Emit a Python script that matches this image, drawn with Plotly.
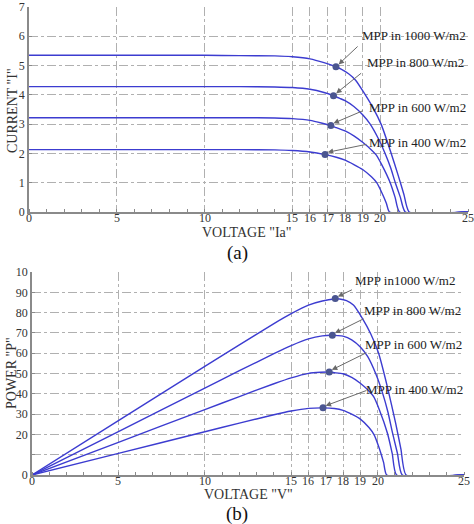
import plotly.graph_objects as go

# ---------------- data ----------------
v_1000 = [0, 5, 10, 12, 14, 15, 16, 16.8, 17.48, 17.8, 18.2, 18.6, 19.1, 19.6, 20.05, 20.6, 21.05, 21.35, 21.65, 25]
i_1000 = [5.35, 5.35, 5.35, 5.34, 5.33, 5.30, 5.23, 5.10, 4.96, 4.87, 4.72, 4.50, 4.05, 3.55, 3.0, 2.05, 1.2, 0.6, 0, 0]
p_1000 = [0, 26.75, 53.5, 64.1, 74.6, 79.5, 83.7, 85.7, 86.7, 86.7, 85.9, 83.7, 77.4, 69.6, 60.2, 42.2, 25.3, 12.8, 0, 0]

v_800 = [0, 5, 10, 12, 14, 15, 16, 16.8, 17.34, 17.7, 18, 18.5, 19, 19.43, 19.9, 20.28, 20.6, 20.86, 21.15, 21.43, 25]
i_800 = [4.28, 4.28, 4.28, 4.28, 4.27, 4.25, 4.19, 4.08, 3.97, 3.88, 3.80, 3.60, 3.32, 3.0, 2.5, 2.0, 1.5, 1.0, 0.5, 0, 0]
p_800 = [0, 21.4, 42.8, 51.36, 59.78, 63.75, 67.04, 68.54, 68.84, 68.68, 68.4, 66.6, 63.08, 58.29, 49.75, 40.56, 30.9, 20.86, 10.58, 0, 0]

v_600 = [0, 5, 10, 12, 14, 15, 16, 16.7, 17.19, 17.5, 18, 18.5, 19, 19.5, 19.77, 20.1, 20.57, 20.85, 21.1, 25]
i_600 = [3.22, 3.22, 3.22, 3.22, 3.21, 3.19, 3.13, 3.03, 2.95, 2.88, 2.77, 2.60, 2.38, 2.12, 1.95, 1.6, 1.0, 0.5, 0, 0]
p_600 = [0, 16.1, 32.2, 38.64, 44.94, 47.85, 50.08, 50.6, 50.71, 50.4, 49.86, 48.1, 45.22, 41.34, 38.55, 32.16, 20.57, 10.43, 0, 0]

v_400 = [0, 5, 10, 12, 14, 15, 16, 16.86, 17.5, 18, 18.5, 19, 19.5, 19.8, 20.1, 20.35, 20.53, 25]
i_400 = [2.13, 2.13, 2.13, 2.13, 2.12, 2.10, 2.05, 1.96, 1.87, 1.77, 1.62, 1.45, 1.2, 1.0, 0.65, 0.3, 0, 0]
p_400 = [0, 10.65, 21.3, 25.56, 29.68, 31.5, 32.8, 33.05, 32.73, 31.86, 29.97, 27.55, 23.4, 19.8, 13.07, 6.1, 0, 0]

# maximum power points
mpp_v_iv = [17.48, 17.34, 17.19, 16.86]
mpp_i = [4.96, 3.97, 2.95, 1.96]
mpp_v_pv = [17.55, 17.38, 17.2, 16.84]
mpp_p = [86.9, 68.9, 50.8, 33.1]

# annotation texts
labels_top = ["MPP in 1000 W/m2", "MPP in 800 W/m2", "MPP in 600 W/m2", "MPP in 400 W/m2"]
labels_bot = ["MPP in1000 W/m2", "MPP in 800 W/m2", "MPP in 600 W/m2", "MPP in 400 W/m2"]

# tick labels
x_tickvals = [0, 5, 10, 15, 16, 17, 18, 19, 20, 25]
x_ticktext = ["0", "5", "10", "15", "16", "17", "18", "19", "20", "25"]
yi_tickvals = [0, 1, 2, 3, 4, 5, 6, 7]
yi_ticktext = ["0", "1", "2", "3", "4", "5", "6", "7"]
yp_tickvals = [0, 10, 20, 30, 40, 50, 60, 70, 80, 90, 100]
yp_ticktext = ["0", "", "20", "30", "40", "50", "60", "70", "80", "90", "10"]

# ---------------- styling / layout ----------------
FONT = "Liberation Serif, Times New Roman, serif"
LINE = "#3c3cd0"
MARK = "#4a5590"
GRID = "#b0b0b0"
AX = "#8a8a8a"

# text / arrow positions (data coords)
top_text_xy = [(21.9, 6.01), (22.0, 5.12), (22.1, 3.58), (22.1, 2.36)]
top_tail_xy = [(18.8, 5.70), (19.0, 4.78), (19.1, 3.48), (19.3, 2.32)]
bot_text_xy = [(21.6, 95.6), (22.0, 80.8), (22.05, 64.5), (22.16, 41.9)]
bot_tail_xy = [(18.6, 91.6), (19.27, 77.3), (19.44, 60.6), (19.44, 41.9)]

fig = go.Figure()

iv = [(v_1000, i_1000), (v_800, i_800), (v_600, i_600), (v_400, i_400)]
pv = [(v_1000, p_1000), (v_800, p_800), (v_600, p_600), (v_400, p_400)]

for v, c in iv:
    fig.add_trace(go.Scatter(x=v, y=c, mode="lines", xaxis="x", yaxis="y",
                             line=dict(color=LINE, width=1.4, shape="spline", smoothing=0.5),
                             showlegend=False, hoverinfo="skip"))
for v, p in pv:
    fig.add_trace(go.Scatter(x=v, y=p, mode="lines", xaxis="x2", yaxis="y2",
                             line=dict(color=LINE, width=1.4, shape="spline", smoothing=0.5),
                             showlegend=False, hoverinfo="skip"))

fig.add_trace(go.Scatter(x=mpp_v_iv, y=mpp_i, mode="markers", xaxis="x", yaxis="y",
                         marker=dict(color=MARK, size=7), showlegend=False))
fig.add_trace(go.Scatter(x=mpp_v_pv, y=mpp_p, mode="markers", xaxis="x2", yaxis="y2",
                         marker=dict(color=MARK, size=7), showlegend=False))

annotations = []
for k in range(4):
    annotations.append(dict(x=mpp_v_iv[k] + 0.15, y=mpp_i[k] + 0.08, xref="x", yref="y",
                            ax=top_tail_xy[k][0], ay=top_tail_xy[k][1], axref="x", ayref="y",
                            text="", showarrow=True, arrowhead=2, arrowsize=1.1,
                            arrowwidth=1, arrowcolor="#6a6a6a"))
    annotations.append(dict(x=top_text_xy[k][0], y=top_text_xy[k][1], xref="x", yref="y",
                            xanchor="center", yanchor="middle",
                            text=labels_top[k], showarrow=False,
                            font=dict(family=FONT, size=13, color="#222")))
    annotations.append(dict(x=mpp_v_pv[k] + 0.15, y=mpp_p[k] + 1.0, xref="x2", yref="y2",
                            ax=bot_tail_xy[k][0], ay=bot_tail_xy[k][1], axref="x2", ayref="y2",
                            text="", showarrow=True, arrowhead=2, arrowsize=1.1,
                            arrowwidth=1, arrowcolor="#6a6a6a"))
    annotations.append(dict(x=bot_text_xy[k][0], y=bot_text_xy[k][1], xref="x2", yref="y2",
                            xanchor="center", yanchor="middle",
                            text=labels_bot[k], showarrow=False,
                            font=dict(family=FONT, size=13, color="#222")))

W, H = 474, 524


def px(x):
    return x / W


def py(y):
    return 1 - y / H


def title_ann(x, y, text, size, angle=0, color="#333"):
    return dict(x=px(x), y=py(y), xref="paper", yref="paper", text=text, textangle=angle,
                xanchor="center", yanchor="middle", showarrow=False,
                font=dict(family=FONT, size=size, color=color))


annotations += [
    title_ann(12, 111, 'CURRENT "I"', 14, -90),
    title_ann(247, 233, 'VOLTAGE "Ia"', 14),
    title_ann(237, 253, "(a)", 19, 0, "#111"),
    title_ann(11, 373, 'POWER "P"', 14, -90),
    title_ann(248, 494, 'VOLTAGE "V"', 14),
    title_ann(237, 514, "(b)", 19, 0, "#111"),
]

# x tick labels placed just below each x axis
for xr, ypix in (("x", 218), ("x2", 481)):
    for tv, tt in zip(x_tickvals, x_ticktext):
        annotations.append(dict(x=tv, y=py(ypix), xref=xr, yref="paper", text=tt,
                                xanchor="center", yanchor="middle", showarrow=False,
                                font=dict(family=FONT, size=12, color="#333")))


def xaxis(domain, anchor):
    return dict(domain=domain, anchor=anchor, range=[0, 25], tickvals=x_tickvals,
                showticklabels=False, showgrid=True, gridcolor=GRID, griddash="dashdot",
                gridwidth=1, showline=True, linecolor=AX, linewidth=1.5, zeroline=False,
                ticks="", automargin=False,
                minor=dict(dtick=1, tick0=0, ticks="inside", ticklen=3, tickcolor=AX,
                           showgrid=False))


def yaxis(domain, anchor, rng, tv, tt):
    return dict(domain=domain, anchor=anchor, range=rng, tickvals=tv, ticktext=tt,
                showgrid=True, gridcolor=GRID, griddash="dashdot", gridwidth=1,
                showline=True, linecolor=AX, linewidth=1.5, zeroline=False,
                ticks="inside", ticklen=3, tickcolor=AX, automargin=False,
                tickfont=dict(family=FONT, size=12, color="#333"))


fig.update_layout(
    width=W, height=H,
    margin=dict(l=0, r=0, t=0, b=0, pad=0, autoexpand=False),
    paper_bgcolor="white", plot_bgcolor="white",
    xaxis=xaxis([px(29), px(468)], "y"),
    yaxis=yaxis([py(212), py(7)], "x", [0, 7], yi_tickvals, yi_ticktext),
    xaxis2=xaxis([px(32), px(464)], "y2"),
    yaxis2=yaxis([py(475), py(272)], "x2", [0, 100], yp_tickvals, yp_ticktext),
    annotations=annotations,
    showlegend=False,
)

fig.write_html("out.html")
